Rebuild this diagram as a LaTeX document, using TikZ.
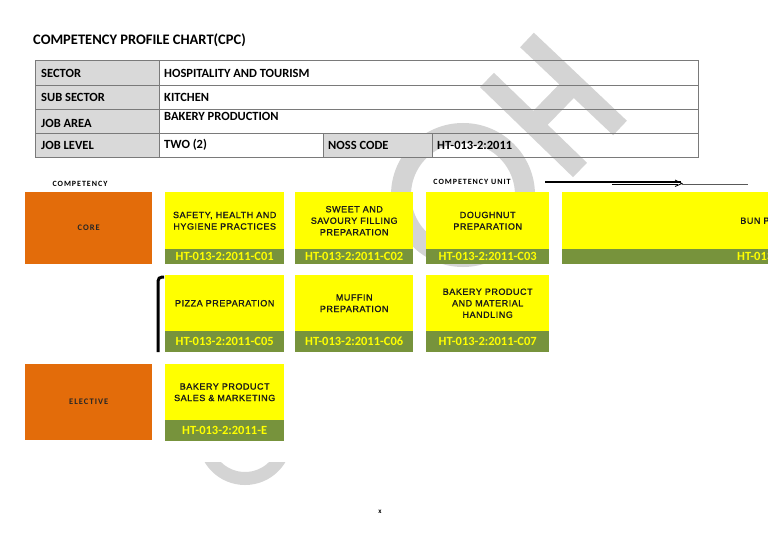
\documentclass[tikz,border=0pt]{standalone}
\usepackage{fontspec}
\setmainfont{Carlito}
\newfontfamily\arialf[LetterSpace=6,FakeBold=1.3]{Liberation Sans}
\newfontfamily\lblf[LetterSpace=12]{Carlito}
\definecolor{orng}{HTML}{E36C0A}
\definecolor{ylw}{HTML}{FFFF00}
\definecolor{olv}{HTML}{77933C}
\definecolor{cellgray}{HTML}{D9D9D9}
\definecolor{tline}{HTML}{7A7A7A}
\definecolor{wmgray}{HTML}{D4D4D4}
\begin{document}
\begin{tikzpicture}[x=1pt,y=-1pt,
  wm/.style={draw=wmgray, line width=20pt},
  tcell/.style={draw=tline, line width=1pt},
  ttext/.style={anchor=west, inner sep=0pt, font=\bfseries\fontsize{12.5}{14}\selectfont},
  ybox/.style={fill=ylw, anchor=north west, inner sep=0pt, align=center, text=black!90, font=\arialf\fontsize{9}{11.5}\selectfont},
  gbox/.style={fill=olv, anchor=north west, inner sep=0pt, text=ylw, font=\bfseries\fontsize{12.5}{14}\selectfont},
  obox/.style={fill=orng, anchor=north west, inner sep=0pt, minimum width=127pt, text=black!85, font=\lblf\bfseries\fontsize{8.5}{10}\selectfont},
  lbl/.style={inner sep=0pt, font=\lblf\bfseries\fontsize{8}{10}\selectfont}
]
\useasboundingbox (0,0) rectangle (768,543);
\clip (0,0) rectangle (768,543);
\fill[white] (0,0) rectangle (768,543);

% watermark
\draw[wm] (527,40) -- (620,128);
\draw[wm] (487,80) -- (580,170);
\draw[wm] (533.5,125) -- (573.5,84);
\draw[wm] (463,195) circle (62);
\begin{scope}
  \clip (190,462) rectangle (300,500);
  \draw[wmgray, line width=13pt] (245,438) circle (40.5);
\end{scope}

% title
\node[anchor=west, inner sep=0pt, font=\bfseries\fontsize{14.5}{16}\selectfont] (title) at (33,40) {COMPETENCY PROFILE CHART(CPC)};

% table
\filldraw[fill=cellgray, tcell] (35,61) rectangle (159,157);
\draw[tcell] (159,61) rectangle (698,157);
\draw[tcell] (35,85) -- (698,85) (35,109) -- (698,109) (35,133) -- (698,133);
\filldraw[fill=cellgray, tcell] (323,133) rectangle (432,157);
\node[ttext] (t1) at (41,73) {SECTOR};
\node[ttext] (t2) at (164,73) {HOSPITALITY AND TOURISM};
\node[ttext] (t3) at (41,97) {SUB SECTOR};
\node[ttext] (t4) at (164,97) {KITCHEN};
\node[ttext] (t5) at (41,123) {JOB AREA};
\node[ttext] (t6) at (164,116) {BAKERY PRODUCTION};
\node[ttext] (t7) at (41,145) {JOB LEVEL};
\node[ttext] (t8) at (164,145) {TWO (2)};
\node[ttext] (t9) at (328,145) {NOSS CODE};
\node[ttext] (t10) at (437,145) {HT-013-2:2011};

% headings
\node[lbl] (comp) at (80,183.5) {COMPETENCY};
\node[lbl] (cunit) at (472,181.5) {COMPETENCY UNIT};
\coordinate (ar1) at (545,182);
\coordinate (ar2) at (681,182);
\coordinate (ar3) at (612,184.5);
\coordinate (ar4) at (678,184.5);
\coordinate (ar5) at (682,184.5);
\coordinate (ar6) at (748,184.5);
\draw[line width=1.6pt] (ar1) -- (ar2);
\draw[line width=1pt] (ar3) -- (ar4);
\draw[line width=0.8pt] (675,180) -- (682,183.5) -- (675,186.5);
\draw[line width=0.8pt, black!65] (ar5) -- (ar6);

% competency boxes
\node[obox, minimum height=72pt] (core) at (25,192) {CORE};
\node[obox, minimum height=76pt] (elective) at (25,364) {ELECTIVE};

% row 1
\node[ybox, minimum width=119pt, minimum height=57pt] (u1) at (165,192) {SAFETY, HEALTH AND\\HYGIENE PRACTICES};
\node[gbox, minimum width=119pt, minimum height=15pt] (c1) at (165,249) {HT-013-2:2011-C01};
\node[ybox, minimum width=118pt, minimum height=57pt] (u2) at (295,192) {SWEET AND\\SAVOURY FILLING\\PREPARATION};
\node[gbox, minimum width=118pt, minimum height=15pt] (c2) at (295,249) {HT-013-2:2011-C02};
\node[ybox, minimum width=123pt, minimum height=57pt] (u3) at (426,192) {DOUGHNUT\\PREPARATION};
\node[gbox, minimum width=123pt, minimum height=15pt] (c3) at (426,249) {HT-013-2:2011-C03};
\node[ybox, minimum width=448pt, minimum height=57pt] (u4) at (562,192) {BUN PREPARATION};
\node[gbox, minimum width=448pt, minimum height=15pt] (c4) at (562,249) {HT-013-2:2011-C04};

% row 2
\node[ybox, minimum width=119pt, minimum height=56pt] (u5) at (165,275) {PIZZA PREPARATION};
\node[gbox, minimum width=119pt, minimum height=21pt] (c5) at (165,331) {HT-013-2:2011-C05};
\node[ybox, minimum width=118pt, minimum height=56pt] (u6) at (295,275) {MUFFIN\\PREPARATION};
\node[gbox, minimum width=118pt, minimum height=21pt] (c6) at (295,331) {HT-013-2:2011-C06};
\node[ybox, minimum width=123pt, minimum height=56pt] (u7) at (426,275) {BAKERY PRODUCT\\AND MATERIAL\\HANDLING};
\node[gbox, minimum width=123pt, minimum height=21pt] (c7) at (426,331) {HT-013-2:2011-C07};

% row 3 (elective)
\node[ybox, minimum width=119pt, minimum height=56pt] (ue) at (165,364) {BAKERY PRODUCT\\SALES \& MARKETING};
\node[gbox, minimum width=119pt, minimum height=21pt] (ce) at (165,420) {HT-013-2:2011-E};

% bracket
\draw[line width=3pt, rounded corners=4pt] (u5.north west) ++(-1,2) -- (158,277) -- (158,352);

% footer mark
\node[inner sep=0pt, font=\bfseries\fontsize{7}{8}\selectfont] (xm) at (380,512) {x};
\end{tikzpicture}
\end{document}
